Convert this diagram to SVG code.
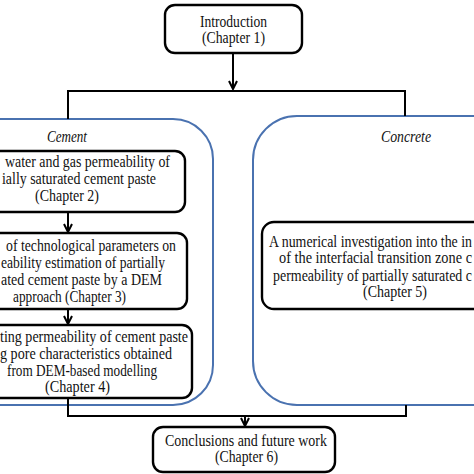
<svg xmlns="http://www.w3.org/2000/svg" width="474" height="474" viewBox="0 0 474 474">
<defs>
<style>
.cont{fill:none;stroke:#4a72b0;stroke-width:2}
.box{fill:#fff;stroke:#000;stroke-width:2.4}
.t{font-family:"Liberation Serif","Times New Roman",serif;font-size:16px;fill:#111}
.i{font-style:italic}
.ln{fill:none;stroke:#000;stroke-width:2}
</style>
<marker id="ah" viewBox="0 0 10 10" refX="9" refY="5" markerWidth="10" markerHeight="10" markerUnits="userSpaceOnUse" orient="auto">
<path d="M1,1 L9,5 L1,9" fill="none" stroke="#000" stroke-width="2"/>
</marker>
</defs>
<rect width="474" height="474" fill="#fff"/>
<g id="cement-group">
<rect class="cont" x="-100" y="119" width="313" height="286" rx="40"/>
<text class="t i" x="47" y="142" textLength="40" lengthAdjust="spacingAndGlyphs">Cement</text>
</g>
<g id="concrete-group">
<rect class="cont" x="253" y="116" width="300" height="289" rx="44"/>
<text class="t i" x="381" y="142" textLength="50" lengthAdjust="spacingAndGlyphs">Concrete</text>
</g>
<g id="connectors">
<path class="ln" d="M233,53 V89" marker-end="url(#ah)"/>
<path class="ln" d="M68,119 V91 H405 V116"/>
<path class="ln" d="M68,212 V232" marker-end="url(#ah)"/>
<path class="ln" d="M68,309 V324" marker-end="url(#ah)"/>
<path class="ln" d="M68,398 V416 H406 V405"/>
<path class="ln" d="M245,416 V426" marker-end="url(#ah)"/>
</g>
<g id="ch1">
<rect class="box" x="165" y="5" width="137" height="48" rx="10"/>
<text class="t" x="200" y="27" textLength="67" lengthAdjust="spacingAndGlyphs">Introduction</text>
<text class="t" x="202" y="43" textLength="63" lengthAdjust="spacingAndGlyphs">(Chapter 1)</text>
</g>
<g id="ch2">
<rect class="box" x="-40" y="151" width="225" height="61" rx="10"/>
<text class="t" x="5" y="167" textLength="165" lengthAdjust="spacingAndGlyphs">water and gas permeability of</text>
<text class="t" x="2" y="184" textLength="154" lengthAdjust="spacingAndGlyphs">ially saturated cement paste</text>
<text class="t" x="35" y="201" textLength="64" lengthAdjust="spacingAndGlyphs">(Chapter 2)</text>
</g>
<g id="ch3">
<rect class="box" x="-40" y="233" width="227" height="76" rx="10"/>
<text class="t" x="6" y="251" textLength="170" lengthAdjust="spacingAndGlyphs">of technological parameters on</text>
<text class="t" x="1" y="268" textLength="164" lengthAdjust="spacingAndGlyphs">eability estimation of partially</text>
<text class="t" x="1" y="285" textLength="161" lengthAdjust="spacingAndGlyphs">ated cement paste by a DEM</text>
<text class="t" x="13" y="302" textLength="113" lengthAdjust="spacingAndGlyphs">approach (Chapter 3)</text>
</g>
<g id="ch4">
<rect class="box" x="-40" y="325" width="232" height="73" rx="10"/>
<text class="t" x="0" y="342" textLength="188" lengthAdjust="spacingAndGlyphs">ting permeability of cement paste</text>
<text class="t" x="0" y="359" textLength="172" lengthAdjust="spacingAndGlyphs">g pore characteristics obtained</text>
<text class="t" x="7" y="376" textLength="150" lengthAdjust="spacingAndGlyphs">from DEM-based modelling</text>
<text class="t" x="45" y="392" textLength="65" lengthAdjust="spacingAndGlyphs">(Chapter 4)</text>
</g>
<g id="ch5">
<rect class="box" x="262" y="222" width="260" height="87" rx="12"/>
<text class="t" x="269" y="247" textLength="203" lengthAdjust="spacingAndGlyphs">A numerical investigation into the in</text>
<text class="t" x="279" y="263" textLength="193" lengthAdjust="spacingAndGlyphs">of the interfacial transition zone c</text>
<text class="t" x="273" y="281" textLength="199" lengthAdjust="spacingAndGlyphs">permeability of partially saturated c</text>
<text class="t" x="363" y="297" textLength="64" lengthAdjust="spacingAndGlyphs">(Chapter 5)</text>
</g>
<g id="ch6">
<rect class="box" x="153" y="427" width="182" height="45" rx="10"/>
<text class="t" x="165" y="446" textLength="162" lengthAdjust="spacingAndGlyphs">Conclusions and future work</text>
<text class="t" x="215" y="462" textLength="63" lengthAdjust="spacingAndGlyphs">(Chapter 6)</text>
</g>
</svg>
